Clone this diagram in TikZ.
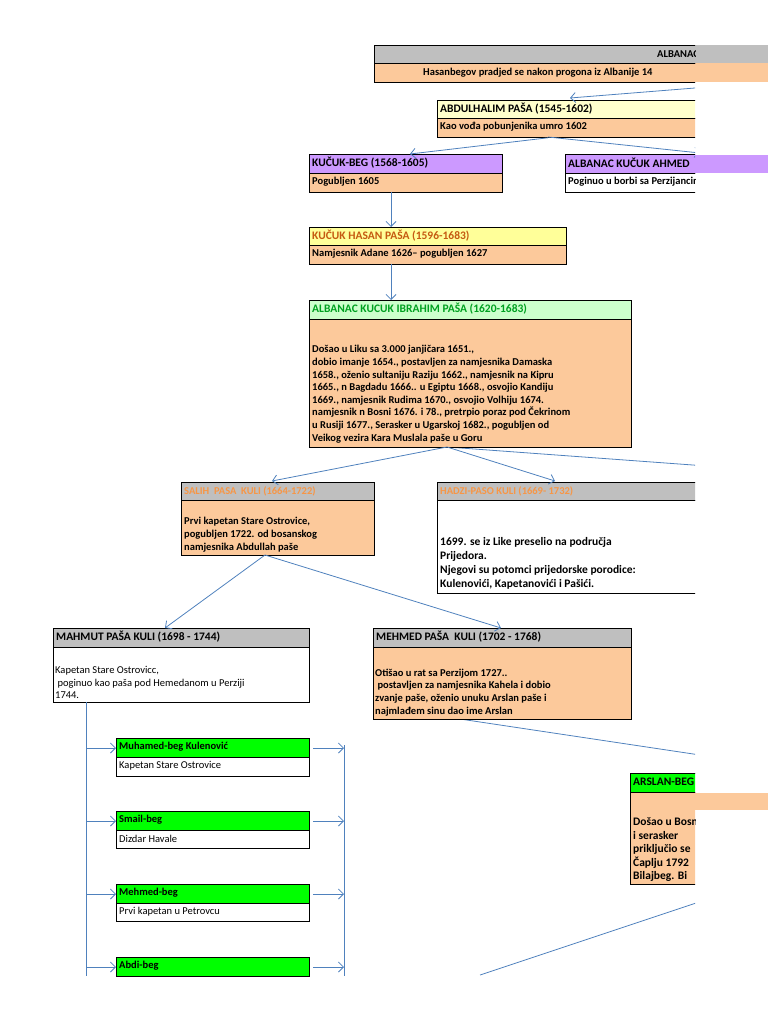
\documentclass[tikz,border=0pt]{standalone}
\usepackage{fontspec}
\setmainfont{Carlito}
\usetikzlibrary{arrows.meta}
\definecolor{org}{HTML}{FCC99B}
\definecolor{gry}{HTML}{BFBFBF}
\definecolor{lyel}{HTML}{FFFFCC}
\definecolor{yel}{HTML}{FFFF99}
\definecolor{pur}{HTML}{CC99FF}
\definecolor{lgrn}{HTML}{CCFFCC}
\definecolor{grn}{HTML}{00FF00}
\definecolor{ln}{HTML}{4F81BD}
\definecolor{orgtxt}{HTML}{F79646}
\definecolor{brn}{HTML}{C55A11}
\definecolor{dgrn}{HTML}{00A020}
\begin{document}
\begin{tikzpicture}[x=1pt,y=-1pt,
  cell/.style={draw=black,line width=0.8pt,anchor=north west,inner sep=0pt,minimum height=#1},
  txt/.style={anchor=west,inner sep=0pt,font=\fontsize{10.5}{12.6}\selectfont\bfseries},
  body/.style={anchor=south west,inner sep=0pt,align=left,font=\fontsize{10.5}{12.6}\selectfont\bfseries},
  con/.style={draw=ln,line width=0.8pt},
  arr/.style={con,-{Straight Barb[length=5pt,width=10pt]}}]
\useasboundingbox (0,0) rectangle (768,1024);
% extensions beyond the page edge
\fill[gry] (695,45) rectangle (768,63);
\fill[org] (695,63) rectangle (768,82);
\fill[pur] (695,155) rectangle (768,173);
\fill[org] (695,793) rectangle (768,810);
\begin{scope}
\clip (0,0) rectangle (695,1024);
% top
\node[cell=18pt,minimum width=400pt,fill=gry] (a1) at (374,45) {};
\node[cell=19pt,minimum width=400pt,fill=org] (a2) at (374,63) {};
\node[txt] at (657,54) {ALBANAC};
\node[txt] at (423,73) {Hasanbegov pradjed se nakon progona iz Albanije 14};
% abdulhalim
\node[cell=18pt,minimum width=300pt,fill=lyel] (b1) at (437,100) {};
\node[cell=19pt,minimum width=300pt,fill=org] (b2) at (437,118) {};
\node[txt,font=\fontsize{11.5}{13}\selectfont\bfseries] at (440,109) {ABDULHALIM PAŠA (1545-1602)};
\node[txt] at (440,127) {Kao vođa pobunjenika umro 1602};
% albanac kucuk ahm
\node[cell=19pt,minimum width=200pt,fill=pur] (d1) at (565,154) {};
\node[cell=19pt,minimum width=200pt,fill=white] (d2) at (565,173) {};
\node[txt,font=\fontsize{11.5}{13}\selectfont\bfseries] at (568,163) {ALBANAC KUČUK AHMED};
\node[txt] at (568,182) {Poginuo u borbi sa Perzijancima};
% hadzi
\node[cell=18pt,minimum width=300pt,fill=gry] (h1) at (437,482) {};
\node[cell=93pt,minimum width=300pt,fill=white] (h2) at (437,500) {};
\node[txt,text=orgtxt] at (440,491) {HADZI-PASO KULI (1669- 1732)};
\node[body,font=\fontsize{11.5}{14}\selectfont\bfseries] at (440,590) {1699. se iz Like preselio na područja\\Prijedora.\\Njegovi su potomci prijedorske porodice:\\Kulenovići, Kapetanovići i Pašići.};
% arslan
\node[cell=19pt,minimum width=100pt,fill=grn] (r1) at (630,773) {};
\node[cell=92pt,minimum width=100pt,fill=org] (r2) at (630,792) {};
\node[txt,font=\fontsize{11.5}{13}\selectfont\bfseries] at (633,782) {ARSLAN-BEG};
\node[body,font=\fontsize{11.5}{13.5}\selectfont\bfseries] at (633,882) {Došao u Bosnu\\ i serasker\\priključio se\\Čaplju 1792\\Bilajbeg. Bi};
% connectors clipped
\draw[arr] (720,86) -- (570,98);
\draw[arr] (548,137) -- (700,153);
\draw[con] (447,447) -- (720,467);
\draw[con] (460,719) -- (720,758);
\draw[con] (720,895) -- (480,975);
\end{scope}
% kucuk-beg
\node[cell=19pt,minimum width=193pt,fill=pur] (k1) at (309,154) {};
\node[cell=19pt,minimum width=193pt,fill=org] (k2) at (309,173) {};
\node[txt,font=\fontsize{11.5}{13}\selectfont\bfseries] at (312,163) {KUČUK-BEG (1568-1605)};
\node[txt] at (312,182) {Pogubljen 1605};
% kucuk hasan
\node[cell=18pt,minimum width=257pt,fill=yel] (c1) at (309,227) {};
\node[cell=19pt,minimum width=257pt,fill=org] (c2) at (309,245) {};
\node[txt,text=brn,font=\fontsize{11.5}{13}\selectfont\bfseries] at (312,236) {KUČUK HASAN PAŠA (1596-1683)};
\node[txt] at (312,254) {Namjesnik Adane 1626-- pogubljen 1627};
% ibrahim
\node[cell=19pt,minimum width=322pt,fill=lgrn] (i1) at (309,300) {};
\node[cell=128pt,minimum width=322pt,fill=org] (i2) at (309,319) {};
\node[txt,text=dgrn,font=\fontsize{11.5}{13}\selectfont\bfseries] at (312,309) {ALBANAC KUCUK IBRAHIM PAŠA (1620-1683)};
\node[body] at (312,443) {Došao u Liku sa 3.000 janjičara 1651.,\\dobio imanje 1654., postavljen za namjesnika Damaska\\1658., oženio sultaniju Raziju 1662., namjesnik na Kipru\\1665., n Bagdadu 1666.. u Egiptu 1668., osvojio Kandiju\\1669., namjesnik Rudima 1670., osvojio Volhiju 1674.\\namjesnik n Bosni 1676. i 78., pretrpio poraz pod Čekrinom\\u Rusiji 1677., Serasker u Ugarskoj 1682., pogubljen od\\Veikog vezira Kara Muslala paše u Goru};
% salih
\node[cell=18pt,minimum width=193pt,fill=gry] (s1) at (181,482) {};
\node[cell=55pt,minimum width=193pt,fill=org] (s2) at (181,500) {};
\node[txt,text=orgtxt] at (184,491) {SALIH\ \ PASA\ \ KULI (1664-1722)};
\node[body] at (184,552) {Prvi kapetan Stare Ostrovice,\\pogubljen 1722. od bosanskog\\namjesnika Abdullah paše};
% mahmut
\node[cell=19pt,minimum width=256pt,fill=gry] (m1) at (53,628) {};
\node[cell=55pt,minimum width=256pt,fill=white] (m2) at (53,647) {};
\node[txt,font=\fontsize{11.5}{13}\selectfont\bfseries] at (56,637) {MAHMUT PAŠA KULI (1698 - 1744)};
\node[body,font=\fontsize{10.5}{12.6}\selectfont] at (55,699) {Kapetan Stare Ostrovicc,\\\ poginuo kao paša pod Hemedanom u Perziji\\1744.};
% mehmed
\node[cell=19pt,minimum width=258pt,fill=gry] (e1) at (373,628) {};
\node[cell=72pt,minimum width=258pt,fill=org] (e2) at (373,647) {};
\node[txt,font=\fontsize{11.5}{13}\selectfont\bfseries] at (376,637) {MEHMED PAŠA\ \ KULI (1702 - 1768)};
\node[body] at (375,716) {Otišao u rat sa Perzijom 1727..\\\ postavljen za namjesnika Kahela i dobio\\zvanje paše, oženio unuku Arslan paše i\\najmlađem sinu dao ime Arslan};
% green sons
\node[cell=19pt,minimum width=193pt,fill=grn] (g1) at (116,738) {};
\node[cell=19pt,minimum width=193pt,fill=white] (g1b) at (116,757) {};
\node[txt] at (119,747) {Muhamed-beg Kulenović};
\node[txt,font=\fontsize{10.5}{12.6}\selectfont] at (119,766) {Kapetan Stare Ostrovice};
\node[cell=19pt,minimum width=193pt,fill=grn] (g2) at (116,811) {};
\node[cell=18pt,minimum width=193pt,fill=white] (g2b) at (116,830) {};
\node[txt] at (119,820) {Smail-beg};
\node[txt,font=\fontsize{10.5}{12.6}\selectfont] at (119,839) {Dizdar Havale};
\node[cell=19pt,minimum width=193pt,fill=grn] (g3) at (116,884) {};
\node[cell=18pt,minimum width=193pt,fill=white] (g3b) at (116,903) {};
\node[txt] at (119,893) {Mehmed-beg};
\node[txt,font=\fontsize{10.5}{12.6}\selectfont] at (119,912) {Prvi kapetan u Petrovcu};
\node[cell=19pt,minimum width=193pt,fill=grn] (g4) at (116,957) {};
\node[txt] at (119,966) {Abdi-beg};
% connectors
\coordinate (lt) at (86,702); \coordinate (lb) at (86,976);
\coordinate (rt) at (344,745); \coordinate (rb) at (344,976);
\draw[arr] (b2.south west) ++(111,0) -- (410,154);
\draw[arr] (391,192) -- (391,227);
\draw[arr] (391,264) -- (391,300);
\draw[arr] (447,447) -- (272,481);
\draw[arr] (447,447) -- (555,481);
\draw[arr] (265,555) -- (165,628);
\draw[arr] (265,555) -- (501,628);
\draw[con] (lt) -- (lb);
\draw[con] (rt) -- (rb);
\foreach \n/\y in {g1/748,g2/821,g3/894,g4/967}{
  \draw[arr] (86,\y) -- (\n.west |- 0,\y);
  \draw[arr] (313,\y) -- (344,\y);
}
\end{tikzpicture}
\end{document}
